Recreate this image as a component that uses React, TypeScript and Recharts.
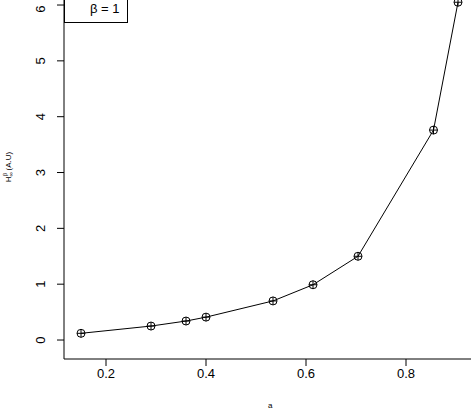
import React from "react";
import { LineChart, Line, XAxis, YAxis } from "recharts";

// values
const aValues = [0.15, 0.29, 0.36, 0.4, 0.534, 0.614, 0.704, 0.855, 0.904];
const hValues = [0.12, 0.25, 0.34, 0.41, 0.7, 0.99, 1.5, 3.76, 6.05];
const xTicks = [0.2, 0.4, 0.6, 0.8];
const yTicks = [0, 1, 2, 3, 4, 5, 6];

const data = aValues.map((a, i) => ({ a, h: hValues[i] }));

const FONT = "Liberation Sans, Arial, Helvetica, sans-serif";

function CrossDot(props: any) {
  const { cx, cy } = props;
  if (cx == null || cy == null) return null;
  return (
    <g stroke="#000" strokeWidth={1} fill="none">
      <circle cx={cx} cy={cy} r={4} />
      <line x1={cx - 4} y1={cy} x2={cx + 4} y2={cy} />
      <line x1={cx} y1={cy - 4} x2={cx} y2={cy + 4} />
    </g>
  );
}

function YTick(props: any) {
  const { y, payload } = props;
  return (
    <text
      x={45}
      y={y}
      transform={`rotate(-90, 45, ${y})`}
      textAnchor="middle"
      fontSize={13}
      fontFamily={FONT}
      fill="#000"
    >
      {payload.value}
    </text>
  );
}

function XTick(props: any) {
  const { x, payload } = props;
  return (
    <text x={x} y={378} textAnchor="middle" fontSize={13} fontFamily={FONT} fill="#000">
      {payload.value}
    </text>
  );
}

export default function App() {
  return (
    <div style={{ width: 474, height: 412, position: "relative", background: "#fff" }}>
      <style>{"body{margin:0}"}</style>
      <LineChart
        width={474}
        height={412}
        data={data}
        margin={{ top: 0, right: 3, bottom: 0, left: 0 }}
      >
        <XAxis
          dataKey="a"
          type="number"
          domain={[0.116, 0.93]}
          ticks={xTicks}
          tick={<XTick />}
          tickSize={7}
          height={53}
          axisLine={{ stroke: "#000" }}
          tickLine={{ stroke: "#000" }}
          allowDataOverflow
        />
        <YAxis
          type="number"
          domain={[-0.34, 6.09]}
          ticks={yTicks}
          tick={<YTick />}
          tickSize={7}
          width={64}
          axisLine={{ stroke: "#000" }}
          tickLine={{ stroke: "#000" }}
          allowDataOverflow
        />
        <Line
          dataKey="h"
          stroke="#000"
          strokeWidth={1}
          dot={<CrossDot />}
          activeDot={false}
          isAnimationActive={false}
        />
      </LineChart>
      {/* legend box, top cut off like the reference */}
      <div
        style={{
          position: "absolute",
          left: 64,
          top: -10,
          width: 64,
          height: 33,
          border: "1px solid #000",
          boxSizing: "border-box",
          fontFamily: FONT,
          fontSize: 13,
          lineHeight: "15px",
        }}
      >
        <span style={{ position: "absolute", left: 25, top: 10 }}>β = 1</span>
      </div>
      {/* axis titles */}
      <div
        style={{
          position: "absolute",
          left: 8,
          top: 167,
          transform: "translate(-50%, -50%) rotate(-90deg)",
          fontFamily: FONT,
          fontSize: 8,
          whiteSpace: "nowrap",
        }}
      >
        H<sub style={{ fontSize: 6 }}>∞</sub>
        <sup style={{ fontSize: 6, marginLeft: -4 }}>β</sup> (A.U)
      </div>
      <div
        style={{
          position: "absolute",
          left: 268,
          top: 401,
          fontFamily: FONT,
          fontSize: 8,
        }}
      >
        a
      </div>
    </div>
  );
}
